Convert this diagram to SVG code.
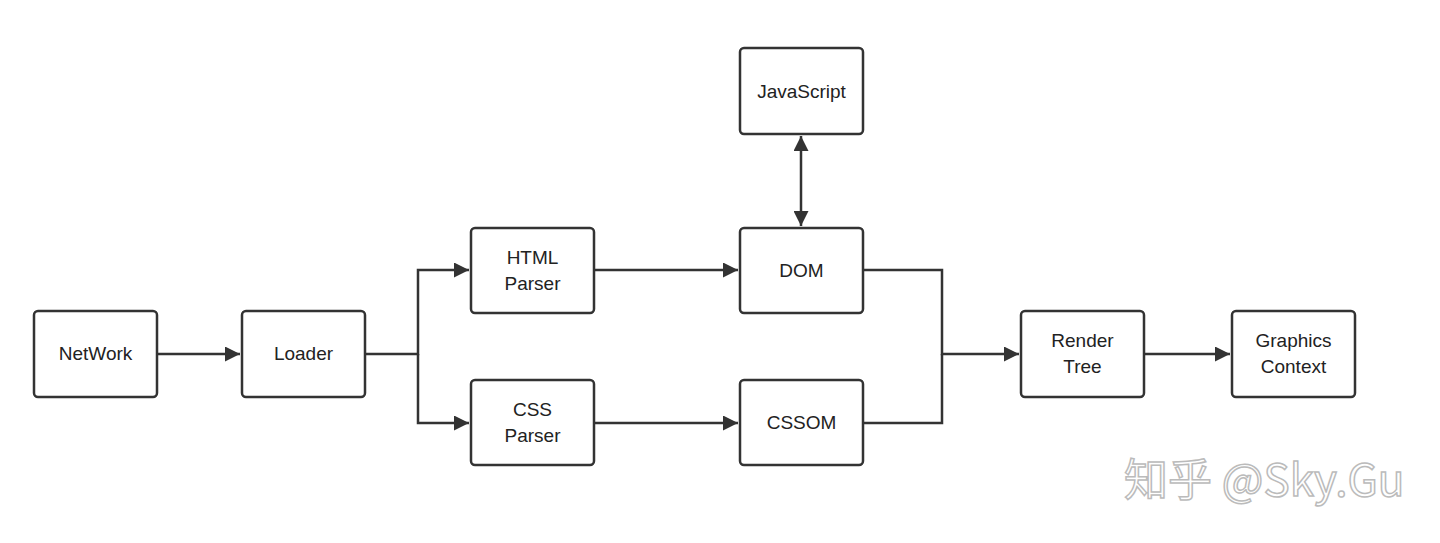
<svg xmlns="http://www.w3.org/2000/svg" width="1440" height="543" viewBox="0 0 1440 543">
<style>
.n rect{fill:#fff;stroke:#333;stroke-width:2.5}
.n text{font-family:"Liberation Sans",Arial,sans-serif;font-size:19px;fill:#222;text-anchor:middle}
.c path{fill:none;stroke:#333;stroke-width:2.5}
.w{font-family:"Noto Sans CJK SC","Liberation Sans",sans-serif;font-size:44px;fill:#fff;stroke:#bbb;stroke-width:1.5}
</style>
<defs>
<marker id="a" viewBox="0 0 10 10" refX="10" refY="5" markerWidth="6" markerHeight="6" orient="auto-start-reverse"><path d="M0,0L10,5L0,10z" fill="#333"/></marker>
</defs>
<rect width="1440" height="543" fill="#fff"/>
<g class="c">
<path d="M157,354H240" marker-end="url(#a)"/>
<path d="M365,354H418V270H469" marker-end="url(#a)"/>
<path d="M418,354V423H469" marker-end="url(#a)"/>
<path d="M594,270H738" marker-end="url(#a)"/>
<path d="M594,423H738" marker-end="url(#a)"/>
<path d="M801,136V226" marker-start="url(#a)" marker-end="url(#a)"/>
<path d="M863,270H942V354H1019" marker-end="url(#a)"/>
<path d="M863,423H942V354"/>
<path d="M1144,354H1230" marker-end="url(#a)"/>
</g>
<g id="network" class="n"><rect x="34" y="311" width="123" height="86" rx="4"/><text x="95.5" y="360">NetWork</text></g>
<g id="loader" class="n"><rect x="242" y="311" width="123" height="86" rx="4"/><text x="303.5" y="360">Loader</text></g>
<g id="html" class="n"><rect x="471" y="228" width="123" height="85" rx="4"/><text x="532.5" y="264">HTML</text><text x="532.5" y="290">Parser</text></g>
<g id="css" class="n"><rect x="471" y="380" width="123" height="85" rx="4"/><text x="532.5" y="416">CSS</text><text x="532.5" y="442">Parser</text></g>
<g id="js" class="n"><rect x="740" y="48" width="123" height="86" rx="4"/><text x="801.5" y="98">JavaScript</text></g>
<g id="dom" class="n"><rect x="740" y="228" width="123" height="85" rx="4"/><text x="801.5" y="277">DOM</text></g>
<g id="cssom" class="n"><rect x="740" y="380" width="123" height="85" rx="4"/><text x="801.5" y="429">CSSOM</text></g>
<g id="render" class="n"><rect x="1021" y="311" width="123" height="86" rx="4"/><text x="1082.5" y="347">Render</text><text x="1082.5" y="373">Tree</text></g>
<g id="graphics" class="n"><rect x="1232" y="311" width="123" height="86" rx="4"/><text x="1293.5" y="347">Graphics</text><text x="1293.5" y="373">Context</text></g>
<text class="w" x="1124" y="496">知乎 @Sky.Gu</text>
</svg>
